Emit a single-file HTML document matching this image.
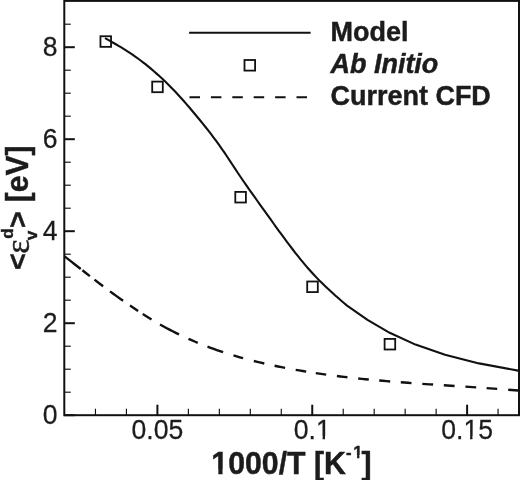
<!DOCTYPE html>
<html><head><meta charset="utf-8"><style>
html,body{margin:0;padding:0;background:#fff;width:520px;height:480px;overflow:hidden}
svg{display:block}
</style></head><body>
<svg width="520" height="480" viewBox="0 0 520 480">
<defs><clipPath id="c0"><rect x="-10.00" y="-10.00" width="326.97" height="600.00"/><rect x="330.44" y="-10.00" width="600.00" height="600.00"/><rect x="-10.00" y="-10.00" width="600.00" height="446.02"/><rect x="322.64" y="-10.00" width="2.35" height="600.00"/></clipPath><clipPath id="c1"><rect x="-10.00" y="-10.00" width="474.43" height="600.00"/><rect x="477.90" y="-10.00" width="600.00" height="600.00"/><rect x="-10.00" y="-10.00" width="600.00" height="446.02"/><rect x="470.09" y="-10.00" width="2.35" height="600.00"/></clipPath><clipPath id="c2"><rect x="-10.00" y="-10.00" width="222.21" height="600.00"/><rect x="228.31" y="-10.00" width="600.00" height="600.00"/><rect x="-10.00" y="-10.00" width="600.00" height="479.27"/><rect x="218.37" y="-10.00" width="4.16" height="600.00"/></clipPath><clipPath id="c3"><rect x="-10.00" y="-10.00" width="363.25" height="600.00"/><rect x="362.97" y="-10.00" width="600.00" height="600.00"/><rect x="-10.00" y="-10.00" width="600.00" height="465.03"/><rect x="357.07" y="-10.00" width="2.28" height="600.00"/></clipPath></defs>
<rect x="64.3" y="0.9" width="454.7" height="414.3" fill="none" stroke="#111" stroke-width="2"/>
<g stroke="#111"><line x1="64.3" y1="415.20" x2="74.8" y2="415.20" stroke-width="2"/><line x1="64.3" y1="392.20" x2="70.8" y2="392.20" stroke-width="1.15"/><line x1="64.3" y1="369.20" x2="70.8" y2="369.20" stroke-width="1.15"/><line x1="64.3" y1="346.20" x2="70.8" y2="346.20" stroke-width="1.15"/><line x1="64.3" y1="323.20" x2="74.8" y2="323.20" stroke-width="2"/><line x1="64.3" y1="300.20" x2="70.8" y2="300.20" stroke-width="1.15"/><line x1="64.3" y1="277.20" x2="70.8" y2="277.20" stroke-width="1.15"/><line x1="64.3" y1="254.20" x2="70.8" y2="254.20" stroke-width="1.15"/><line x1="64.3" y1="231.20" x2="74.8" y2="231.20" stroke-width="2"/><line x1="64.3" y1="208.20" x2="70.8" y2="208.20" stroke-width="1.15"/><line x1="64.3" y1="185.20" x2="70.8" y2="185.20" stroke-width="1.15"/><line x1="64.3" y1="162.20" x2="70.8" y2="162.20" stroke-width="1.15"/><line x1="64.3" y1="139.20" x2="74.8" y2="139.20" stroke-width="2"/><line x1="64.3" y1="116.20" x2="70.8" y2="116.20" stroke-width="1.15"/><line x1="64.3" y1="93.20" x2="70.8" y2="93.20" stroke-width="1.15"/><line x1="64.3" y1="70.20" x2="70.8" y2="70.20" stroke-width="1.15"/><line x1="64.3" y1="47.20" x2="74.8" y2="47.20" stroke-width="2"/><line x1="64.3" y1="24.20" x2="70.8" y2="24.20" stroke-width="1.15"/><line x1="95.46" y1="415.2" x2="95.46" y2="408.7" stroke-width="1.15"/><line x1="126.43" y1="415.2" x2="126.43" y2="408.7" stroke-width="1.15"/><line x1="157.40" y1="415.2" x2="157.40" y2="404.7" stroke-width="2"/><line x1="188.37" y1="415.2" x2="188.37" y2="408.7" stroke-width="1.15"/><line x1="219.34" y1="415.2" x2="219.34" y2="408.7" stroke-width="1.15"/><line x1="250.31" y1="415.2" x2="250.31" y2="408.7" stroke-width="1.15"/><line x1="281.28" y1="415.2" x2="281.28" y2="408.7" stroke-width="1.15"/><line x1="312.25" y1="415.2" x2="312.25" y2="404.7" stroke-width="2"/><line x1="343.22" y1="415.2" x2="343.22" y2="408.7" stroke-width="1.15"/><line x1="374.19" y1="415.2" x2="374.19" y2="408.7" stroke-width="1.15"/><line x1="405.16" y1="415.2" x2="405.16" y2="408.7" stroke-width="1.15"/><line x1="436.13" y1="415.2" x2="436.13" y2="408.7" stroke-width="1.15"/><line x1="467.10" y1="415.2" x2="467.10" y2="404.7" stroke-width="2"/><line x1="498.07" y1="415.2" x2="498.07" y2="408.7" stroke-width="1.15"/></g>
<g fill="#1c1c1c" stroke="#1c1c1c" stroke-width="0.25"><text transform="translate(57.60,424.40) scale(1,1.045)" font-family="Liberation Sans, Arial, sans-serif" font-size="26.6" text-anchor="end">0</text><text transform="translate(57.60,332.40) scale(1,1.045)" font-family="Liberation Sans, Arial, sans-serif" font-size="26.6" text-anchor="end">2</text><text transform="translate(57.60,240.40) scale(1,1.045)" font-family="Liberation Sans, Arial, sans-serif" font-size="26.6" text-anchor="end">4</text><text transform="translate(57.60,148.40) scale(1,1.045)" font-family="Liberation Sans, Arial, sans-serif" font-size="26.6" text-anchor="end">6</text><text transform="translate(57.60,56.40) scale(1,1.045)" font-family="Liberation Sans, Arial, sans-serif" font-size="26.6" text-anchor="end">8</text><text transform="translate(157.40,439.40) scale(1,1.045)" font-family="Liberation Sans, Arial, sans-serif" font-size="26.6" text-anchor="middle">0.05</text><g clip-path="url(#c0)"><text transform="translate(312.25,439.40) scale(1,1.045)" font-family="Liberation Sans, Arial, sans-serif" font-size="26.6" text-anchor="middle">0.1</text></g><g clip-path="url(#c1)"><text transform="translate(467.10,439.40) scale(1,1.045)" font-family="Liberation Sans, Arial, sans-serif" font-size="26.6" text-anchor="middle">0.15</text></g></g>
<path d="M105.00,38.20 L107.72,39.70 L110.43,41.20 L113.15,42.72 L115.86,44.26 L118.58,45.83 L121.29,47.44 L124.01,49.10 L126.73,50.81 L129.44,52.58 L132.16,54.40 L134.87,56.29 L137.59,58.24 L140.30,60.25 L143.02,62.32 L145.74,64.45 L148.45,66.64 L151.17,68.89 L153.88,71.21 L156.60,73.59 L159.31,76.03 L162.03,78.53 L164.75,81.10 L167.46,83.73 L170.18,86.44 L172.89,89.22 L175.61,92.07 L178.32,94.99 L181.04,97.98 L183.76,101.03 L186.47,104.13 L189.19,107.29 L191.90,110.48 L194.62,113.72 L197.33,116.99 L200.05,120.29 L202.77,123.64 L205.48,127.03 L208.20,130.47 L210.91,133.98 L213.63,137.56 L216.34,141.21 L219.06,144.95 L221.78,148.78 L224.49,152.71 L227.21,156.74 L229.92,160.83 L232.64,164.96 L235.36,169.09 L238.07,173.21 L240.79,177.28 L243.50,181.28 L246.22,185.20 L248.93,189.08 L251.65,192.91 L254.37,196.71 L257.08,200.50 L259.80,204.28 L262.51,208.07 L265.23,211.87 L267.94,215.67 L270.66,219.46 L273.38,223.25 L276.09,227.02 L278.81,230.77 L281.52,234.49 L284.24,238.19 L286.95,241.84 L289.67,245.45 L292.39,249.01 L295.10,252.52 L297.82,255.96 L300.53,259.34 L303.25,262.65 L305.96,265.87 L308.68,269.01 L311.40,272.06 L314.11,275.01 L316.83,277.87 L319.54,280.65 L322.26,283.34 L324.97,285.97 L327.69,288.54 L330.41,291.05 L333.12,293.51 L335.84,295.93 L338.55,298.33 L341.27,300.70 L343.98,303.05 L346.70,305.40 L367.50,319.90 L389.70,332.80 L415.50,344.60 L445.00,354.80 L479.00,363.40 L519.50,370.90" fill="none" stroke="#111" stroke-width="2.1" stroke-linejoin="round"/>
<path d="M64.60,256.38 L67.83,258.90 L71.06,261.42 L74.29,263.95 L77.52,266.47 L80.75,268.99 M82.40,270.28 L86.15,273.20 L89.90,276.11 M94.50,279.65 L98.80,282.94 L103.10,286.20 M110.00,291.36 L113.28,293.77 L116.55,296.15 L119.82,298.50 L123.10,300.82 M130.00,305.61 L134.05,308.36 L138.10,311.04 M142.75,314.05 L147.12,316.81 L151.50,319.49 M160.00,324.46 L163.17,326.23 L166.33,327.95 L169.50,329.64 L172.67,331.27 L175.83,332.87 L179.00,334.42 M188.50,338.84 L191.58,340.20 L194.67,341.52 L197.75,342.81 M207.50,346.65 L210.62,347.82 L213.74,348.95 L216.86,350.05 L219.98,351.12 L223.10,352.16 M233.50,355.42 L236.70,356.36 L239.90,357.28 L243.10,358.17 M253.80,360.97 L257.30,361.83 L260.80,362.67 L264.30,363.48 M274.60,365.73 L278.10,366.46 L281.60,367.17 L285.10,367.85 M295.70,369.82 L299.20,370.43 L302.70,371.02 L306.20,371.60 M315.80,373.10 L319.27,373.62 L322.73,374.12 L326.20,374.60 M336.90,376.01 L340.40,376.44 L343.90,376.86 L347.40,377.27 M358.20,378.46 L361.73,378.83 L365.27,379.19 L368.80,379.53 M379.20,380.50 L382.87,380.82 L386.53,381.13 L390.20,381.44 M400.80,382.28 L404.37,382.55 L407.93,382.82 L411.50,383.08 M422.30,383.84 L425.90,384.08 L429.50,384.33 L433.10,384.57 M443.80,385.27 L447.40,385.50 L451.00,385.74 L454.60,385.97 M465.40,386.67 L469.00,386.91 L472.60,387.15 L476.20,387.39 M486.60,388.11 L490.13,388.37 L493.67,388.62 L497.20,388.88 M508.20,389.73 L511.53,390.00 L514.87,390.28 L518.20,390.56" fill="none" stroke="#111" stroke-width="2.4"/>
<g fill="none" stroke="#111" stroke-width="1.8"><rect x="100.45" y="36.25" width="10.6" height="10.6"/><rect x="152.20" y="81.60" width="10.6" height="10.6"/><rect x="235.30" y="191.90" width="10.6" height="10.6"/><rect x="307.20" y="281.50" width="10.6" height="10.6"/><rect x="384.60" y="338.90" width="10.6" height="10.6"/><rect x="244.50" y="60.00" width="10.6" height="10.6"/></g>
<line x1="189.1" y1="32.8" x2="310.6" y2="32.8" stroke="#111" stroke-width="2.1"/>
<line x1="189.5" y1="97.3" x2="308" y2="97.3" stroke="#111" stroke-width="2.1" stroke-dasharray="10.5 10.9"/>
<g fill="#1c1c1c" stroke="#1c1c1c" stroke-width="0.45"><text transform="translate(330.50,40.80) scale(1,1.045)" font-family="Liberation Sans, Arial, sans-serif" font-size="27" font-weight="bold">Model</text><text transform="translate(330.40,72.80) scale(1,1.045)" font-family="Liberation Sans, Arial, sans-serif" font-size="27" font-weight="bold" font-style="italic">Ab Initio</text><text transform="translate(330.40,105.40) scale(1,1.045)" font-family="Liberation Sans, Arial, sans-serif" font-size="27" font-weight="bold">Current CFD</text></g>
<g fill="#1c1c1c" stroke="#1c1c1c" stroke-width="0.45"><g clip-path="url(#c2)"><text transform="translate(211.30,473.80) scale(1,1.045)" font-family="Liberation Sans, Arial, sans-serif" font-size="30.3" font-weight="bold">1000/T [K</text></g><text transform="translate(361.60,473.80) scale(1,1.045)" font-family="Liberation Sans, Arial, sans-serif" font-size="30.3" font-weight="bold">]</text><text transform="translate(346.00,458.10) scale(1,1.045)" font-family="Liberation Sans, Arial, sans-serif" font-size="16.6" font-weight="bold">-</text><g clip-path="url(#c3)"><text transform="translate(353.20,458.10) scale(1,1.045)" font-family="Liberation Sans, Arial, sans-serif" font-size="16.6" font-weight="bold">1</text></g></g>
<g transform="translate(0,480) rotate(-90)" fill="#1c1c1c" stroke="#1c1c1c" stroke-width="0.45"><text transform="translate(210.10,26.57) scale(1,1.0)" font-family="Liberation Sans, Arial, sans-serif" font-size="28.5" font-weight="bold">&lt;</text><text transform="translate(226.30,28.70) scale(1,1.0)" font-family="Liberation Serif, serif" font-size="34">ε</text><text transform="translate(241.30,12.70) scale(1,1.0)" font-family="Liberation Sans, Arial, sans-serif" font-size="17.2" font-weight="bold">d</text><text transform="translate(239.80,36.90) scale(1,1.0)" font-family="Liberation Sans, Arial, sans-serif" font-size="17.2" font-weight="bold">v</text><text transform="translate(252.06,26.57) scale(1,1.0)" font-family="Liberation Sans, Arial, sans-serif" font-size="28.5" font-weight="bold">&gt;</text><text transform="translate(277.80,27.60) scale(1,1.045)" font-family="Liberation Sans, Arial, sans-serif" font-size="30" font-weight="bold">[eV]</text></g>
</svg>
</body></html>
